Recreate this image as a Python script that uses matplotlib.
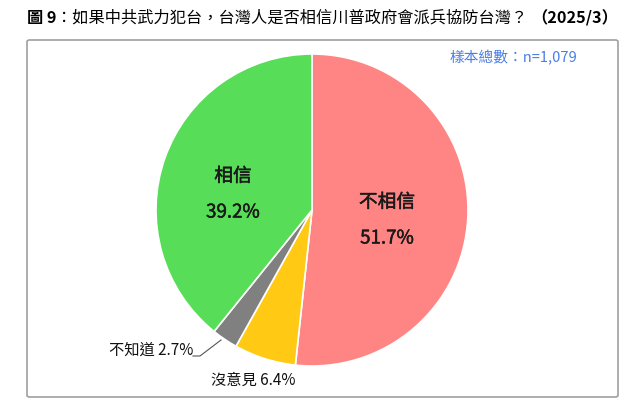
import matplotlib
matplotlib.use("Agg")
import matplotlib.pyplot as plt
import matplotlib.patheffects as pe
from matplotlib.patches import FancyBboxPatch

plt.rcParams['font.family'] = ['Noto Sans CJK TC', 'DejaVu Sans']

# data
labels = ["不相信", "沒意見", "不知道", "相信"]
values = [51.7, 6.4, 2.7, 39.2]
colors = ["#FF8585", "#FFC914", "#808080", "#57DD57"]
title_lead = "圖 9"
title_body = "：如果中共武力犯台，台灣人是否相信川普政府會派兵協防台灣？ "
title_tail = "（2025/3）"
sample_note = "樣本總數：n=1,079"

W, H = 634, 420
fig = plt.figure(figsize=(W / 100, H / 100), dpi=100)


def px(x, y):
    return x / W, 1 - y / H


# frame
frame = FancyBboxPatch(px(27, 397), (618 - 27) / W, (397 - 40) / H,
                       boxstyle="round,pad=0,rounding_size=0.004",
                       transform=fig.transFigure, fill=False,
                       edgecolor="#A0A0A0", linewidth=1.2)
fig.add_artist(frame)

# pie
cx, cy, r = 312, 210, 156
ax = fig.add_axes([(cx - r) / W, (H - cy - r) / H, 2 * r / W, 2 * r / H])
ax.pie(values, colors=colors, startangle=90, counterclock=False,
       wedgeprops=dict(edgecolor="white", linewidth=1.2))
ax.set_xlim(-1, 1)
ax.set_ylim(-1, 1)
ax.set_aspect("equal")
ax.axis("off")

# title in three parts
fig.canvas.draw()
renderer = fig.canvas.get_renderer()
x0 = 27 / W
ty = 1 - 18 / H
for txt, wt in [(title_lead, "bold"), (title_body, "normal"), (title_tail, "bold")]:
    t = fig.text(x0, ty, txt, fontsize=11.7, fontweight=wt, va="center", ha="left")
    bb = t.get_window_extent(renderer)
    x0 += bb.width / W

fig.text(*px(577, 58), sample_note, fontsize=10.6, color="#4A7FE6",
         ha="right", va="center")

# big labels, semi-bold look
semi = [pe.withStroke(linewidth=0.35, foreground="#1A1A1A")]
big = dict(fontsize=13.5, ha="center", va="center", color="#1A1A1A", path_effects=semi)
fig.text(*px(387, 202), labels[0], **big)
fig.text(*px(387, 238), f"{values[0]}%", **big)
fig.text(*px(233, 176), labels[3], **big)
fig.text(*px(233, 212), f"{values[3]}%", **big)

# small labels
small = dict(fontsize=11, color="#111111", va="center")
fig.text(*px(193, 350), f"{labels[2]} {values[2]}%", ha="right", **small)
fig.text(*px(253, 380), f"{labels[1]} {values[1]}%", ha="center", **small)
fig.add_artist(plt.Line2D([193 / W, 200 / W, 221 / W],
                          [1 - 356 / H, 1 - 356 / H, 1 - 340 / H],
                          transform=fig.transFigure, color="#555555", linewidth=0.8))

fig.savefig("out.png", dpi=100, facecolor="white")
